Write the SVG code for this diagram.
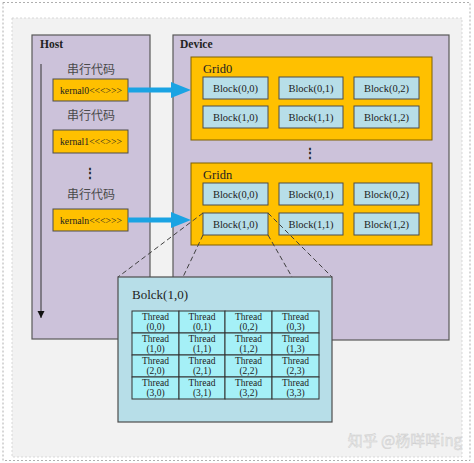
<svg xmlns="http://www.w3.org/2000/svg" width="474" height="463" viewBox="0 0 474 463">
<defs>
<style>
.frame{fill:#ccc2da;stroke:#595959;stroke-width:1.2}
.grid{fill:#ffc000;stroke:#7f6000;stroke-width:1}
.blk{fill:#b7dee8;stroke:#4d4d4d;stroke-width:1}
.ker{fill:#ffc000;stroke:#4d4d4d;stroke-width:1}
.cell{fill:#a5f0f7;stroke:#333;stroke-width:1}
.t{font-family:"Liberation Serif","Times New Roman",serif;fill:#222}
.cjk{font-family:"Noto Sans CJK SC",sans-serif;font-size:12px;fill:#4a4a4a;text-anchor:middle}
.bt{font-size:10.5px;text-anchor:middle}
.th{font-size:9.5px;text-anchor:middle}
.kt{font-size:10px}
.dash{stroke:#404040;stroke-width:1;stroke-dasharray:5,3;fill:none}
</style>
<marker id="ah" viewBox="0 0 10 10" refX="10" refY="5" markerWidth="7" markerHeight="9" markerUnits="userSpaceOnUse" orient="auto">
<path d="M0,0L10,5L0,10z" fill="#111"/>
</marker>
</defs>
<rect x="0" y="0" width="474" height="463" fill="#ffffff"/>
<rect x="3" y="2.5" width="467" height="458" fill="#ffffff" stroke="#9a9a9a" stroke-width="0.8" stroke-dasharray="2,2"/>
<rect x="12" y="18" width="450" height="439" fill="#f2f2f2" stroke="#cfcfcf" stroke-width="0.8" stroke-dasharray="2,2"/>

<g id="host">
<rect class="frame" x="32" y="35" width="118" height="304"/>
<text class="t" x="40" y="48" font-size="11.5" font-weight="bold">Host</text>
</g>
<g id="device">
<rect class="frame" x="173" y="35" width="276" height="305"/>
<text class="t" x="180" y="48" font-size="11.5" font-weight="bold">Device</text>
<text class="t" x="310" y="157" font-size="12" text-anchor="middle" font-weight="bold">⋮</text>
</g>

<g id="serial0"><text class="cjk" x="91" y="74">串行代码</text></g>
<g id="kernel0">
<rect class="ker" x="53" y="79" width="75" height="22"/>
<text class="t kt" x="60" y="93.5" textLength="62" lengthAdjust="spacingAndGlyphs">kernal0&lt;&lt;&lt;&gt;&gt;&gt;</text>
</g>
<g id="serial1"><text class="cjk" x="91" y="120">串行代码</text></g>
<g id="kernel1">
<rect class="ker" x="53" y="130" width="75" height="23"/>
<text class="t kt" x="60" y="145" textLength="62" lengthAdjust="spacingAndGlyphs">kernal1&lt;&lt;&lt;&gt;&gt;&gt;</text>
</g>
<g id="hostdots"><text class="t" x="90" y="177" font-size="12" text-anchor="middle" font-weight="bold">⋮</text></g>
<g id="serialn"><text class="cjk" x="91" y="199">串行代码</text></g>
<g id="kerneln">
<rect class="ker" x="53" y="209" width="75" height="22"/>
<text class="t kt" x="60" y="223.5" textLength="62" lengthAdjust="spacingAndGlyphs">kernaln&lt;&lt;&lt;&gt;&gt;&gt;</text>
</g>

<g id="grid0">
<rect class="grid" x="191" y="57" width="241" height="83"/>
<text class="t" x="203" y="73" font-size="12.5">Grid0</text>
<rect class="blk" x="203" y="77" width="65" height="22"/><text class="t bt" x="235.5" y="91.5">Block(0,0)</text>
<rect class="blk" x="279" y="77" width="64" height="22"/><text class="t bt" x="311" y="91.5">Block(0,1)</text>
<rect class="blk" x="354" y="77" width="65" height="22"/><text class="t bt" x="386.5" y="91.5">Block(0,2)</text>
<rect class="blk" x="203" y="106" width="65" height="22"/><text class="t bt" x="235.5" y="120.5">Block(1,0)</text>
<rect class="blk" x="279" y="106" width="64" height="22"/><text class="t bt" x="311" y="120.5">Block(1,1)</text>
<rect class="blk" x="354" y="106" width="65" height="22"/><text class="t bt" x="386.5" y="120.5">Block(1,2)</text>
</g>
<g id="gridn">
<rect class="grid" x="191" y="163" width="241" height="82"/>
<text class="t" x="203" y="179" font-size="12.5">Gridn</text>
<rect class="blk" x="203" y="183" width="65" height="22"/><text class="t bt" x="235.5" y="197.5">Block(0,0)</text>
<rect class="blk" x="279" y="183" width="64" height="22"/><text class="t bt" x="311" y="197.5">Block(0,1)</text>
<rect class="blk" x="354" y="183" width="65" height="22"/><text class="t bt" x="386.5" y="197.5">Block(0,2)</text>
<rect class="blk" x="203" y="213" width="65" height="22"/><text class="t bt" x="235.5" y="227.5">Block(1,0)</text>
<rect class="blk" x="279" y="213" width="64" height="22"/><text class="t bt" x="311" y="227.5">Block(1,1)</text>
<rect class="blk" x="354" y="213" width="65" height="22"/><text class="t bt" x="386.5" y="227.5">Block(1,2)</text>
</g>

<g id="connectors">
<line x1="41" y1="64" x2="41" y2="318" stroke="#333" stroke-width="1" marker-end="url(#ah)"/>
<path d="M128,90H172" stroke="#1aa3e3" stroke-width="5" fill="none"/>
<path d="M171,82L191,90L171,98z" fill="#1aa3e3"/>
<path d="M128,220H172" stroke="#1aa3e3" stroke-width="5" fill="none"/>
<path d="M171,212L191,220L171,228z" fill="#1aa3e3"/>
<path class="dash" d="M203,213L118,277M203,235L183,277M268,235L292,277M268,213L332,277"/>
</g>

<g id="block10">
<rect x="118" y="277" width="214" height="145" fill="#b7dee8" stroke="#4d4d4d" stroke-width="1.2"/>
<text class="t" x="132" y="299" font-size="13">Bolck(1,0)</text>
</g>
<g id="threads">
<rect class="cell" x="132" y="311" width="47" height="22"/><rect class="cell" x="179" y="311" width="46" height="22"/><rect class="cell" x="225" y="311" width="47" height="22"/><rect class="cell" x="272" y="311" width="47" height="22"/>
<rect class="cell" x="132" y="333" width="47" height="22"/><rect class="cell" x="179" y="333" width="46" height="22"/><rect class="cell" x="225" y="333" width="47" height="22"/><rect class="cell" x="272" y="333" width="47" height="22"/>
<rect class="cell" x="132" y="355" width="47" height="22"/><rect class="cell" x="179" y="355" width="46" height="22"/><rect class="cell" x="225" y="355" width="47" height="22"/><rect class="cell" x="272" y="355" width="47" height="22"/>
<rect class="cell" x="132" y="377" width="47" height="22"/><rect class="cell" x="179" y="377" width="46" height="22"/><rect class="cell" x="225" y="377" width="47" height="22"/><rect class="cell" x="272" y="377" width="47" height="22"/>
<g class="t th">
<text x="155.5" y="320">Thread</text><text x="155.5" y="330">(0,0)</text>
<text x="202" y="320">Thread</text><text x="202" y="330">(0,1)</text>
<text x="248.5" y="320">Thread</text><text x="248.5" y="330">(0,2)</text>
<text x="295.5" y="320">Thread</text><text x="295.5" y="330">(0,3)</text>
<text x="155.5" y="342">Thread</text><text x="155.5" y="352">(1,0)</text>
<text x="202" y="342">Thread</text><text x="202" y="352">(1,1)</text>
<text x="248.5" y="342">Thread</text><text x="248.5" y="352">(1,2)</text>
<text x="295.5" y="342">Thread</text><text x="295.5" y="352">(1,3)</text>
<text x="155.5" y="364">Thread</text><text x="155.5" y="374">(2,0)</text>
<text x="202" y="364">Thread</text><text x="202" y="374">(2,1)</text>
<text x="248.5" y="364">Thread</text><text x="248.5" y="374">(2,2)</text>
<text x="295.5" y="364">Thread</text><text x="295.5" y="374">(2,3)</text>
<text x="155.5" y="386">Thread</text><text x="155.5" y="396">(3,0)</text>
<text x="202" y="386">Thread</text><text x="202" y="396">(3,1)</text>
<text x="248.5" y="386">Thread</text><text x="248.5" y="396">(3,2)</text>
<text x="295.5" y="386">Thread</text><text x="295.5" y="396">(3,3)</text>
</g>
</g>
<text x="462" y="446" font-family="Noto Sans CJK SC, sans-serif" font-size="15" fill="#e8e8e8" stroke="#cccccc" stroke-width="0.4" text-anchor="end">知乎 @杨咩咩ing</text>
</svg>
